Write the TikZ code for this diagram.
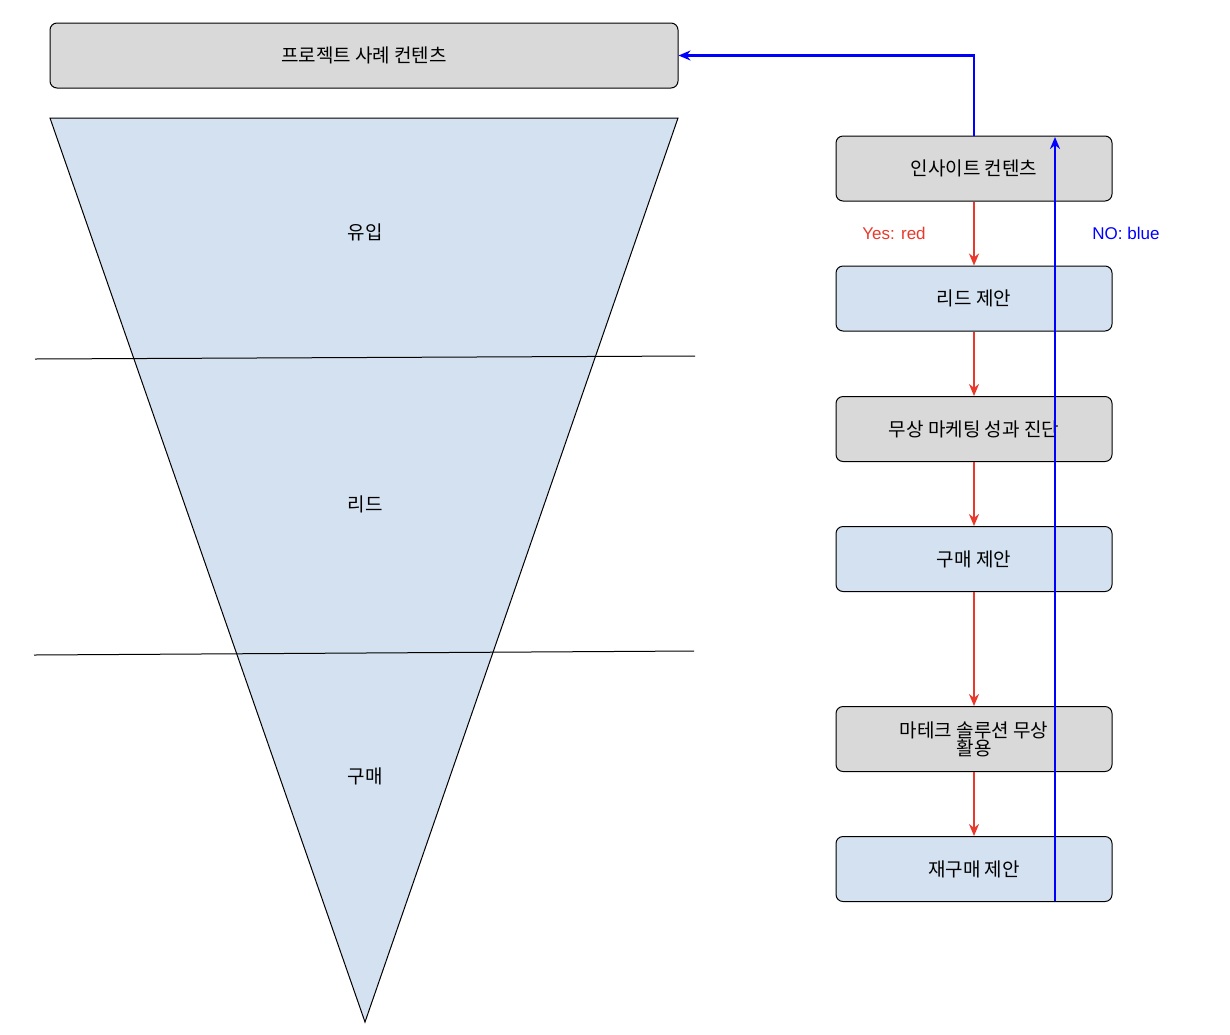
\documentclass[tikz,border=0pt]{standalone}
\usepackage{fontspec}
\setmainfont{Noto Sans CJK KR}
\newfontfamily\latinfont{Liberation Sans}
\usetikzlibrary{arrows.meta}
\definecolor{boxgray}{HTML}{D9D9D9}
\definecolor{boxblue}{HTML}{D4E1F0}
\definecolor{yesred}{HTML}{E8392C}
\definecolor{noblue}{HTML}{0000FF}
\tikzset{
  stepbox/.style={draw, rounded corners=7pt, line width=1pt, minimum width=276pt,
    minimum height=65pt, align=center, font=\fontsize{19}{21}\selectfont},
  yesarrow/.style={draw=yesred, line width=2.5pt, -{Stealth[length=12pt,width=10pt]}},
  noarrow/.style={draw=noblue, line width=2.5pt, -{Stealth[length=12pt,width=10pt]}},
  stagelabel/.style={font=\fontsize{19}{21}\selectfont}
}
\begin{document}
\begin{tikzpicture}[x=1pt,y=-1pt]
    \useasboundingbox (0,0) rectangle (1230,1034);

    % Funnel
    \draw[fill=boxblue, line width=1pt] (50,118) -- (678,118) -- (365,1022) -- cycle;
    \draw[line width=1pt] (35,359) -- (695,356);
    \draw[line width=1pt] (34,655) -- (694,651);
    \node[stagelabel] (inflow) at (365,232) {유입};
    \node[stagelabel] (lead) at (365,504) {리드};
    \node[stagelabel] (buy) at (365,776) {구매};

    % Top box
    \node[stepbox, fill=boxgray, minimum width=628pt] (project) at (364,55.5) {프로젝트 사례 컨텐츠};

    % Right column
    \node[stepbox, fill=boxgray] (insight) at (974,168.5) {인사이트 컨텐츠};
    \node[stepbox, fill=boxblue] (leadoffer) at (974,298.5) {리드 제안};
    \node[stepbox, fill=boxgray] (diag) at (974,429) {무상 마케팅 성과 진단};
    \node[stepbox, fill=boxblue] (buyoffer) at (974,559) {구매 제안};
    \node[stepbox, fill=boxgray] (martech) at (974,739) {마테크 솔루션 무상\\[-3pt]활용};
    \node[stepbox, fill=boxblue] (rebuy) at (974,869) {재구매 제안};

    % Yes arrows
    \draw[yesarrow] (insight) -- (leadoffer);
    \draw[yesarrow] (leadoffer) -- (diag);
    \draw[yesarrow] (diag) -- (buyoffer);
    \draw[yesarrow] (buyoffer) -- (martech);
    \draw[yesarrow] (martech) -- (rebuy);

    % No arrows
    \draw[noarrow] (insight.north) |- (project.east);
    \coordinate (loopstart) at (1055,901);
    \coordinate (loopend) at (1055,137);
    \draw[noarrow] (loopstart) -- (loopend);

    % Legend
    \node[text=yesred, font=\latinfont\fontsize{17}{20}\selectfont] (yes) at (894,233) {Yes: red};
    \node[text=noblue, font=\latinfont\fontsize{17}{20}\selectfont] (no) at (1126,233) {NO: blue};
\end{tikzpicture}
\end{document}
